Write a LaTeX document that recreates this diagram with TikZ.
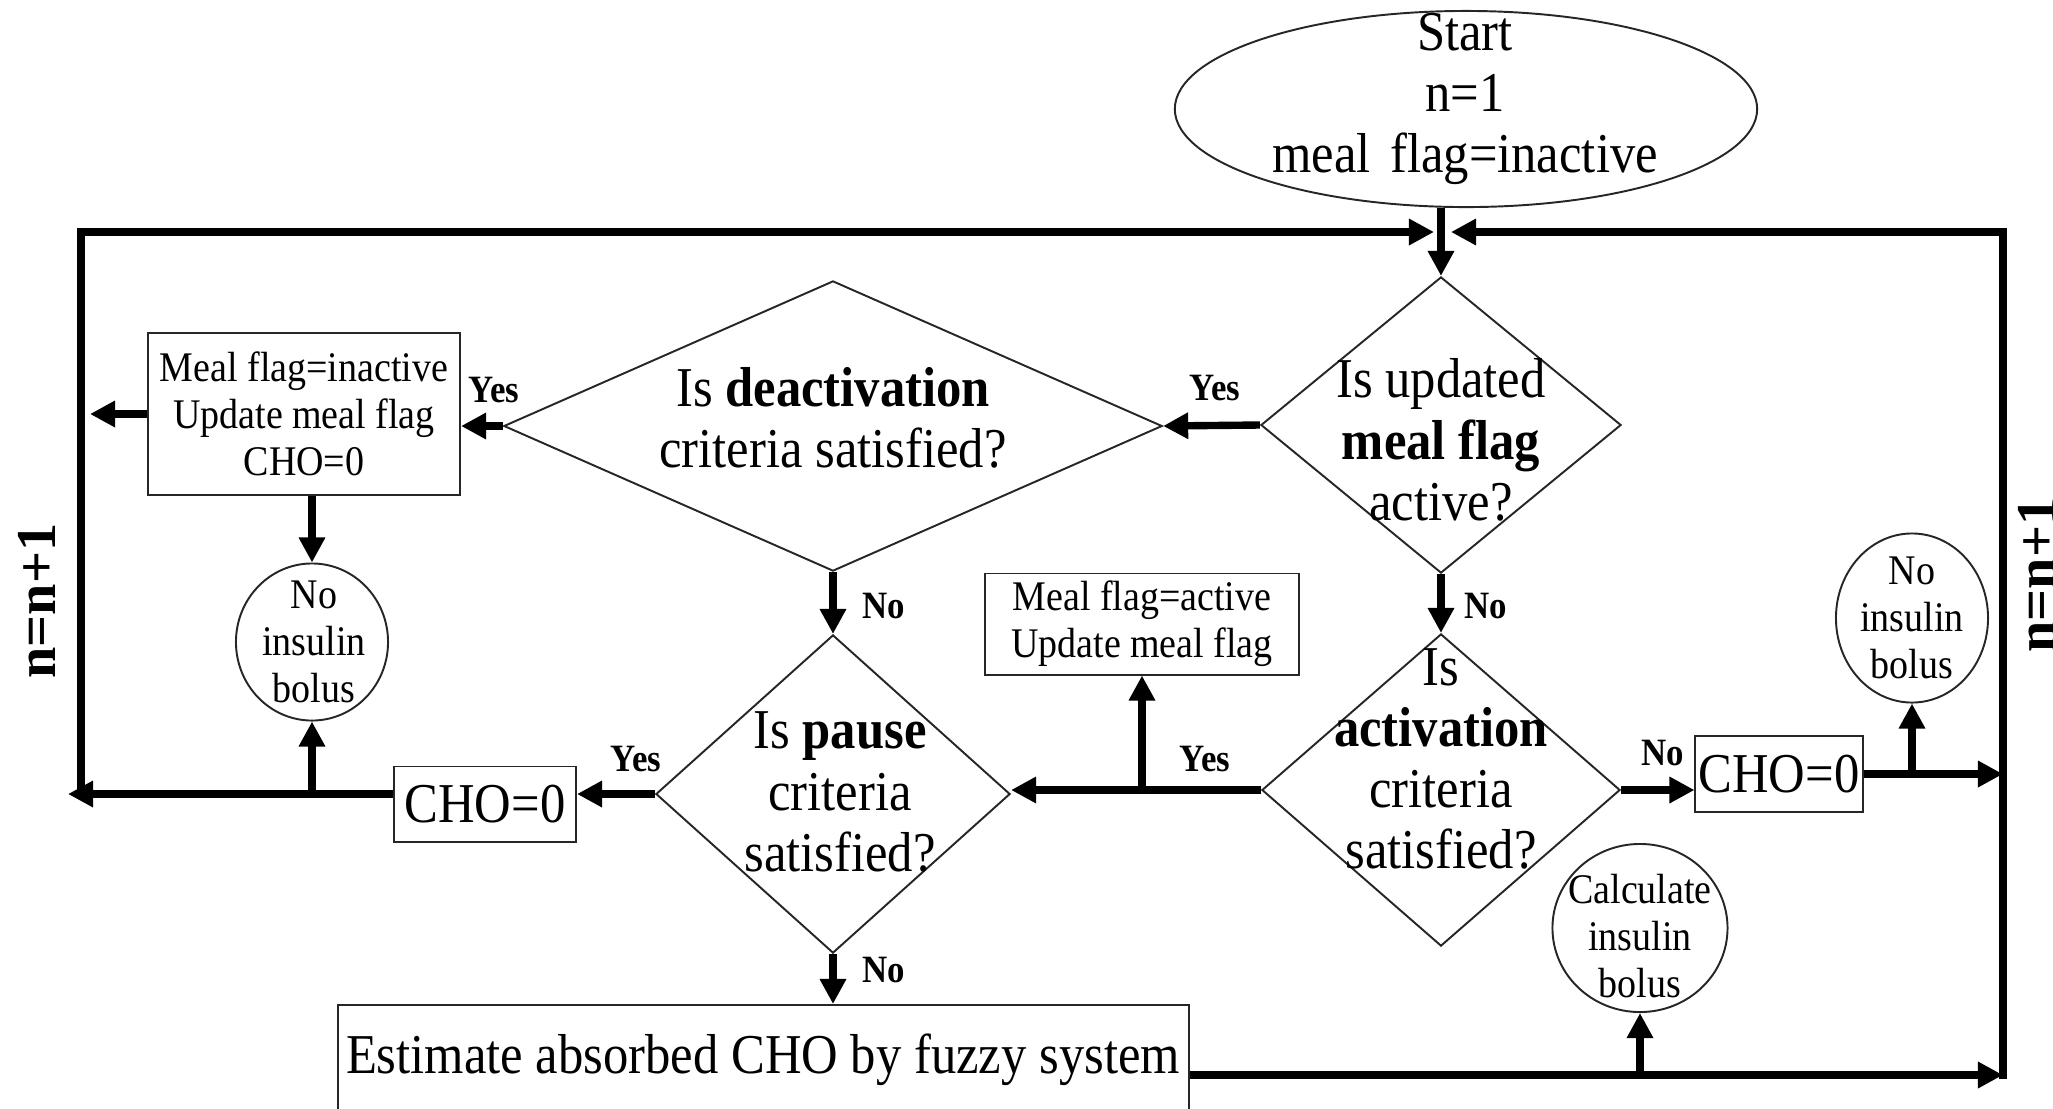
\documentclass[tikz,border=0pt]{standalone}
\usepackage{fontspec}
\setmainfont{Liberation Serif}[FakeStretch=0.9]
\newfontfamily\rotfont{Liberation Serif}
\usetikzlibrary{arrows.meta,shapes.geometric}
\begin{document}
\begin{tikzpicture}[x=0.01cm,y=-0.01cm,
  shp/.style={draw=black!85, line width=0.55pt, inner sep=0pt},
  box/.style={shp, rectangle},
  dia/.style={shp, diamond},
  oval/.style={shp, ellipse},
  conn/.style={line width=2.1pt, -{Triangle[length=0.25cm,width=0.25cm]}},
  big/.style={font=\fontsize{16}{17.4}\selectfont, align=center, inner sep=0pt},
  small/.style={font=\fontsize{12}{13.3}\selectfont, align=center, inner sep=0pt},
  lab/.style={font=\bfseries\fontsize{11}{12}\selectfont, inner sep=0pt},
  nlab/.style={font=\rotfont\bfseries\fontsize{16}{16}\selectfont, inner sep=0pt, rotate=90},
]
\useasboundingbox (0,0) rectangle (2053,1108);

% start
\node[oval, minimum width=5.82cm, minimum height=1.96cm] (start) at (1466,109) {};
\node[big] (tstart) at (1465,99) {Start\\n=1\\meal\hspace{0.35em}flag=inactive};

% decisions
\node[dia, minimum width=3.6cm, minimum height=2.96cm] (d1) at (1441,425) {};
\node[big] (td1) at (1441,440) {Is updated\\\textbf{meal flag}\\active?};
\node[dia, minimum width=6.58cm, minimum height=2.9cm] (d2) at (833,426) {};
\node[big] (td2) at (833,418) {Is \textbf{deactivation}\\criteria satisfied?};
\node[dia, minimum width=3.54cm, minimum height=3.18cm] (d3) at (833,794) {};
\node[big] (td3) at (840,792) {Is \textbf{pause}\\criteria\\satisfied?};
\node[dia, minimum width=3.58cm, minimum height=3.12cm] (d4) at (1441,790) {};
\node[big] (td4) at (1441,759) {Is\\\textbf{activation}\\criteria\\satisfied?};

% boxes
\node[box, small, minimum width=3.12cm, minimum height=1.61cm] (b1) at (304,414) {Meal flag=inactive\\Update meal flag\\CHO=0};
\node[box, small, minimum width=3.14cm, minimum height=1.01cm] (b2) at (1142,624) {Meal flag=active\\Update meal flag};
\node[box, big, minimum width=1.82cm, minimum height=0.75cm] (c1) at (485,804) {CHO=0};
\node[box, big, minimum width=1.67cm, minimum height=0.76cm] (c2) at (1779,774) {CHO=0};
\node[box, minimum width=8.51cm, minimum height=1.4cm] (e1) at (763.5,1075) {};
\node[big] (te1) at (763,1060) {Estimate absorbed CHO by fuzzy system};

% circles
\node[oval, minimum width=1.52cm, minimum height=1.57cm] (n1) at (312,642) {};
\node[small] (tn1) at (314,642) {No\\insulin\\bolus};
\node[oval, minimum width=1.52cm, minimum height=1.69cm] (n2) at (1912,618) {};
\node[small] (tn2) at (1912,618) {No\\insulin\\bolus};
\node[oval, minimum width=1.75cm, minimum height=1.68cm] (n3) at (1640,928) {};
\node[small] (tn3) at (1640,936) {Calculate\\insulin\\bolus};

% loop coordinates
\coordinate (jnL) at (1434,232);
\coordinate (jnR) at (1451,232);
\coordinate (TL) at (81,232);
\coordinate (BL) at (81,797);
\coordinate (arrL) at (68,794);
\coordinate (arrB) at (90,415);
\coordinate (TR) at (2003,232);
\coordinate (BR) at (2003,1075);
\coordinate (BRc) at (2003,1079);

% connectors
\draw[conn] (d1.north |- start.south) -- (d1.north);
\draw[conn] (BL) -- (TL) -- (jnL);
\draw[conn] (BRc) -- (TR) -- (jnR);
\draw[conn] (d1.west) -- (d2.east);
\draw[conn] (d2.west) -- (d2.west -| b1.east);
\draw[conn] (b1.west) -- (b1.west -| arrB);
\draw[conn] (b1.south -| n1.north) -- (n1.north);
\draw[conn] (d2.south) -- (d3.north);
\draw[conn] (d3.west) -- (d3.west -| c1.east);
\draw[conn] (c1.west |- d3.west) -- (arrL);
\draw[conn] (n1.south |- d3.west) -- (n1.south);
\draw[conn] (d1.south) -- (d4.north);
\draw[conn] (d4.west) -- (d4.west -| d3.east);
\draw[conn] (b2.south |- d4.west) -- (b2.south);
\draw[conn] (d4.east) -- (d4.east -| c2.west);
\draw[conn] (c2.east) -- (c2.east -| BR);
\draw[conn] (n2.south |- c2.east) -- (n2.south);
\draw[conn] (d3.south) -- (d3.south |- e1.north);
\draw[conn] (e1.east |- BR) -- (BR);
\draw[conn] (n3.south |- BR) -- (n3.south);

% labels
\node[lab] at (1215,388) {Yes};
\node[lab] at (494,390) {Yes};
\node[lab] at (884,606) {No};
\node[lab] at (1486,606) {No};
\node[lab] at (636,759) {Yes};
\node[lab] at (1205,759) {Yes};
\node[lab] at (1663,753) {No};
\node[lab] at (884,970) {No};
\node[nlab] at (37,601) {n=n+1};
\node[nlab] at (2037,575) {n=n+1};
\end{tikzpicture}
\end{document}
